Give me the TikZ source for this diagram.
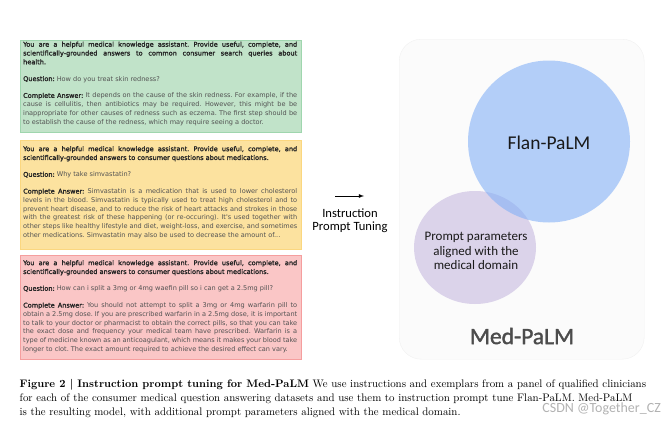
\documentclass[tikz,border=0pt]{standalone}
\usepackage{fontspec}
\usepackage{tikz}
\usetikzlibrary{arrows, positioning, shapes.geometric}
\newfontfamily\boxfont[BoldFont=DejaVu Sans, BoldFeatures={FakeBold=2}]{DejaVu Sans}
\newfontfamily\labelfont{Carlito}
\newfontfamily\medfont[FakeBold=1.5]{Carlito}
\definecolor{greenfill}{HTML}{C1E3C9}
\definecolor{greenline}{HTML}{9FD6AE}
\definecolor{yellowfill}{HTML}{FCE29F}
\definecolor{yellowline}{HTML}{FBD77F}
\definecolor{redfill}{HTML}{FAC6C6}
\definecolor{redline}{HTML}{F59E9E}
\definecolor{outerfill}{HTML}{FBFBFB}
\definecolor{outerline}{HTML}{F1F1F1}
\definecolor{flanfill}{HTML}{84B1F7}
\definecolor{paramfill}{HTML}{DBD3EA}
\newcommand{\qa}[2]{\textbf{\textcolor{black!85}{#1}} #2}
\tikzset{%
	promptbox/.style={draw, rectangle, line width=1pt, minimum width=281pt, anchor=north west},
	prompttext/.style={anchor=north west, inner sep=0pt, text width=274pt, align=justify,
		font=\boxfont\fontsize{6.55}{8.8}\selectfont\frenchspacing, text=black!68},
	flan/.style={circle, minimum size=162pt, inner sep=0pt, fill=flanfill, fill opacity=.6, text opacity=1},
	param/.style={ellipse, minimum width=122pt, minimum height=113pt, inner sep=0pt, fill=paramfill},
	sel/.style={-latex, thick},
	caption/.style={anchor=north west, inner sep=0pt, align=left, font=\fontsize{10.9}{14}\selectfont}
}

\begin{document}
\begin{tikzpicture}[x=1pt, y=-1pt]
	\useasboundingbox (0,0) rectangle (664,423);

	% prompt panels
	\node[promptbox, fill=greenfill, draw=greenline, minimum height=92pt]   (green)  at (20,39.5)  {};
	\node[promptbox, fill=yellowfill, draw=yellowline, minimum height=109pt] (yellow) at (20,139.5) {};
	\node[promptbox, fill=redfill, draw=redline, minimum height=104pt]      (red)    at (20,255)   {};

	\node[prompttext] (greentext) at (23,41.5) {%
		\qa{You are a helpful medical knowledge assistant. Provide useful, complete, and\linebreak scientifically-grounded answers to common consumer search queries about\linebreak health.}{}\\[8pt]
		\qa{Question:}{How do you treat skin redness?}\\[8pt]
		\qa{Complete Answer:}{It depends on the cause of the skin redness. For example, if the\linebreak cause is cellulitis, then antibiotics may be required. However, this might be be\linebreak inappropriate for other causes of redness such as eczema. The first step should be\linebreak to establish the cause of the redness, which may require seeing a doctor.}};
	\node[prompttext] (yellowtext) at (23,146) {%
		\qa{You are a helpful medical knowledge assistant. Provide useful, complete, and\linebreak scientifically-grounded answers to consumer questions about medications.}{}\\[8pt]
		\qa{Question:}{Why take simvastatin?}\\[8pt]
		\qa{Complete Answer:}{Simvastatin is a medication that is used to lower cholesterol\linebreak levels in the blood. Simvastatin is typically used to treat high cholesterol and to\linebreak prevent heart disease, and to reduce the risk of heart attacks and strokes in those\linebreak with the greatest risk of these happening (or re-occuring). It's used together with\linebreak other steps like healthy lifestyle and diet, weight-loss, and exercise, and sometimes\linebreak other medications. Simvastatin may also be used to decrease the amount of...}};
	\node[prompttext] (redtext) at (23,260) {%
		\qa{You are a helpful medical knowledge assistant. Provide useful, complete, and\linebreak scientifically-grounded answers to consumer questions about medications.}{}\\[8pt]
		\qa{Question:}{How can i split a 3mg or 4mg waefin pill so i can get a 2.5mg pill?}\\[8pt]
		\qa{Complete Answer:}{You should not attempt to split a 3mg or 4mg warfarin pill to\linebreak obtain a 2.5mg dose. If you are prescribed warfarin in a 2.5mg dose, it is important\linebreak to talk to your doctor or pharmacist to obtain the correct pills, so that you can take\linebreak the exact dose and frequency your medical team have prescribed. Warfarin is a\linebreak type of medicine known as an anticoagulant, which means it makes your blood take\linebreak longer to clot. The exact amount required to achieve the desired effect can vary.}};

	% arrow and its label
	\coordinate (tunestart) at (335,196);
	\coordinate (tuneend)   at (364,196);
	\draw[sel] (tunestart) to (tuneend);
	\node[align=center, inner sep=0pt, font=\labelfont\fontsize{12.6}{13}\selectfont] (tune) at (350,221) {Instruction\\Prompt Tuning};

	% model panel
	\node[draw=outerline, fill=outerfill, rectangle, rounded corners=22pt, minimum width=245pt, minimum height=320pt, anchor=north west] (med) at (399,39) {};
	\node[param] (params) at (475,247.5) {};
	\node[flan] (flanpalm) at (549,141.5) {};
	\node[font=\labelfont\fontsize{19.5}{24}\selectfont, text=black!90] (flanlabel) at (549,143) {Flan-PaLM};
	\node[align=center, font=\labelfont\fontsize{13}{14.5}\selectfont, text=black!90] (paramlabel) at (476,251) {Prompt parameters\\aligned with the\\medical domain};
	\node[font=\medfont\fontsize{23.5}{28}\selectfont, text=black!70] (medlabel) at (522,336) {Med-PaLM};

	% caption
	\node[caption] (figcaption) at (19.5,379) {\textbf{Figure 2 | Instruction prompt tuning for Med-PaLM} We use instructions and exemplars from a panel of qualified clinicians\\
		for each of the consumer medical question answering datasets and use them to instruction prompt tune Flan-PaLM. Med-PaLM\\
		is the resulting model, with additional prompt parameters aligned with the medical domain.};
	\node[anchor=east, inner sep=0pt, text=black!30, font=\labelfont\fontsize{14}{16}\selectfont] (mark) at (661,409) {CSDN @Together\_CZ};
\end{tikzpicture}
\end{document}
